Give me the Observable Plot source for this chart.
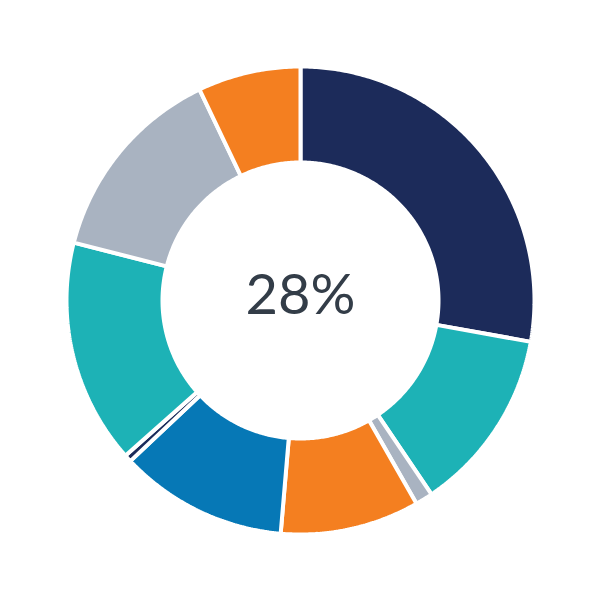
<!DOCTYPE html>
<html>
<head>
<meta charset="utf-8">
<script src="https://cdn.jsdelivr.net/npm/d3@7"></script>
<script src="https://cdn.jsdelivr.net/npm/@observablehq/plot@0.6"></script>
<style>
  html, body { margin: 0; padding: 0; background: #ffffff; }
  #chart { width: 600px; height: 600px; }
</style>
</head>
<body>
<div id="chart"></div>
<script>
// Data
const categories = ["A", "B", "C", "D", "E", "F", "G", "H", "I"];
const values = [27.8, 12.7, 1.2, 9.6, 11.6, 0.5, 15.5, 13.9, 7.1];
const colors = ["#1c2b5a", "#1db2b6", "#a9b3c1", "#f47f20", "#0678b6", "#1c2b5a", "#1db2b6", "#a9b3c1", "#f47f20"];
const centerLabel = "28%";

const outerR = 234;
const innerR = 138;

// Build polygon outline for each slice from pie angles
const pie = d3.pie().sort(null).value(d => d.value);
const arcs = pie(categories.map((c, i) => ({ key: c + i, value: values[i], color: colors[i] })));
const pts = [];
arcs.forEach((a, i) => {
  const n = Math.max(4, Math.ceil((a.endAngle - a.startAngle) / 0.01));
  const ring = [];
  for (let k = 0; k <= n; k++) {
    const t = a.startAngle + (a.endAngle - a.startAngle) * k / n;
    ring.push({ x: outerR * Math.sin(t), y: -outerR * Math.cos(t) });
  }
  for (let k = n; k >= 0; k--) {
    const t = a.startAngle + (a.endAngle - a.startAngle) * k / n;
    ring.push({ x: innerR * Math.sin(t), y: -innerR * Math.cos(t) });
  }
  ring.push(ring[0]);
  ring.forEach(p => pts.push({ ...p, slice: i, color: a.data.color }));
});

const chart = Plot.plot({
  width: 600,
  height: 600,
  margin: 0,
  x: { domain: [-300, 300], axis: null },
  y: { domain: [-300, 300], range: [0, 600], axis: null },
  style: { background: "#ffffff" },
  marks: [
    Plot.line(pts, {
      x: "x", y: "y", z: "slice",
      fill: "color", stroke: "#ffffff", strokeWidth: 4,
      strokeLinejoin: "miter", curve: "linear"
    }),
    Plot.text([centerLabel], {
      x: () => 0, y: () => -4, text: d => d,
      fontSize: 56, fill: "#333d48",
      fontFamily: "Lato, 'Open Sans', sans-serif",
      textAnchor: "middle", lineAnchor: "middle"
    })
  ]
});
document.getElementById("chart").appendChild(chart);
</script>
</body>
</html>
